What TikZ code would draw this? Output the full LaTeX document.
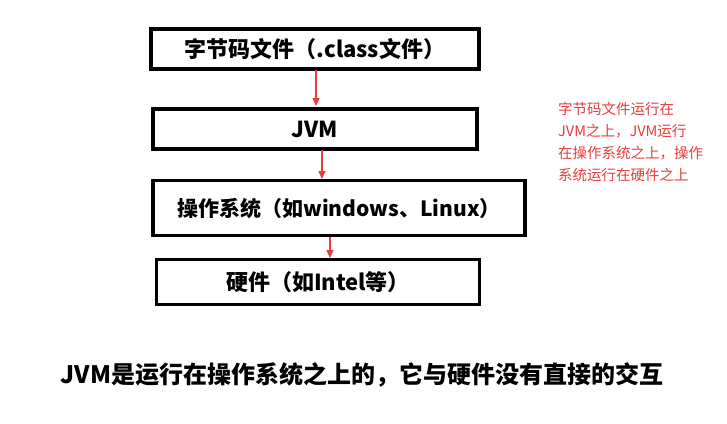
\documentclass[tikz,border=0pt]{standalone}
\usepackage{fontspec}
\setmainfont{Noto Sans CJK SC}
\usetikzlibrary{arrows.meta}
\definecolor{myred}{RGB}{235,60,60}
\begin{document}
\begin{tikzpicture}[x=1pt,y=-1pt,
  box/.style={draw=black,line width=3.5pt,minimum height=40pt,inner sep=0pt,font=\fontsize{22}{26}\selectfont\bfseries},
  arr/.style={draw=myred,line width=1.3pt,-{Triangle[length=8pt,width=7pt]}}]
\useasboundingbox[fill=white] (0,0) rectangle (727,423);
\node[box,minimum width=328pt] (b1) at (315,49) {字节码文件（.class文件）};
\node[box,minimum width=324pt,minimum height=40pt] (b2) at (315,129) {JVM};
\node[box,minimum width=372pt,minimum height=55pt,font=\fontsize{21}{25}\selectfont\bfseries] (b3) at (339,208) {操作系统（如windows、Linux）};
\node[box,minimum width=323pt,minimum height=45pt] (b4) at (318,282) {硬件（如Intel等）};
\draw[arr] (316,70) -- (316,106);
\draw[arr] (322,150) -- (322,179);
\draw[arr] (330,237) -- (330,258);
\node[anchor=north west,text=myred,align=left,font=\fontsize{14.5}{22}\selectfont,inner sep=0pt] (note) at (558,102) {字节码文件运行在\\JVM之上，JVM运行\\在操作系统之上，操作\\系统运行在硬件之上};
\node[font=\fontsize{24}{28}\selectfont\bfseries] (cap) at (362,375) {JVM是运行在操作系统之上的，它与硬件没有直接的交互};
\end{tikzpicture}
\end{document}
